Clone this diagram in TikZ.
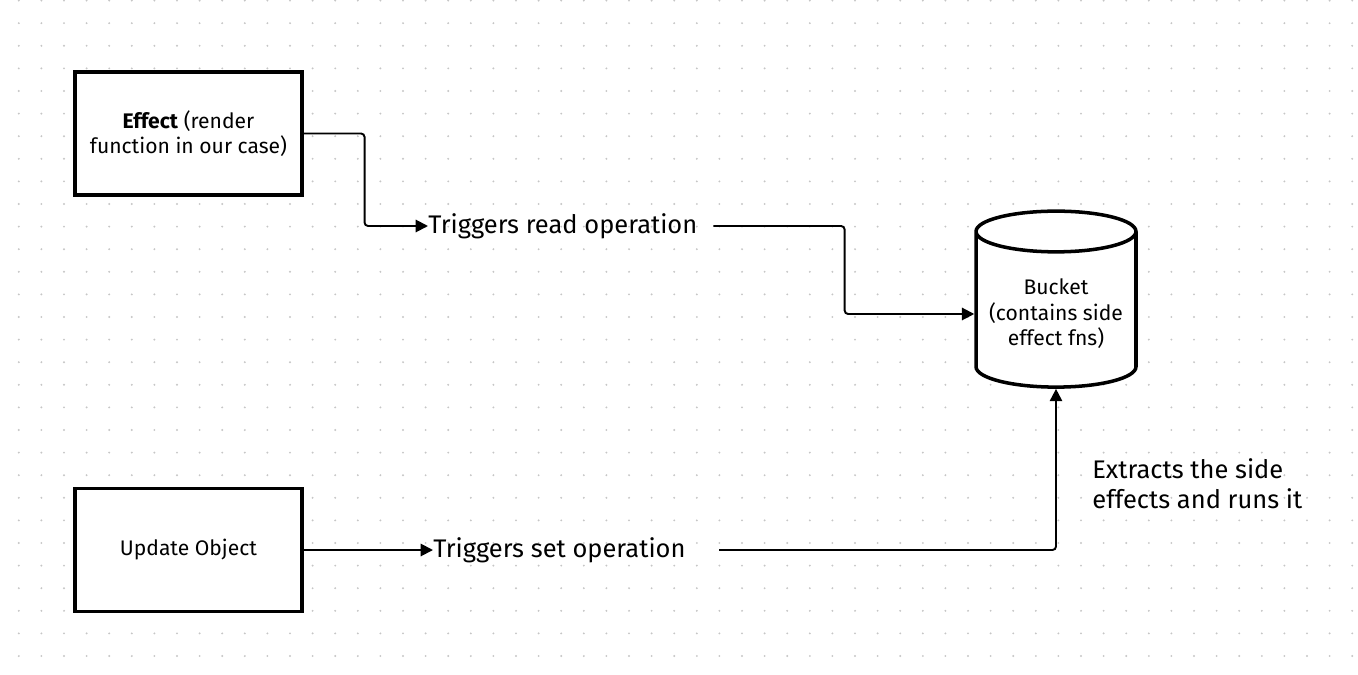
\documentclass[tikz,border=0pt]{standalone}
\usepackage{fontspec}
\setmainfont{Fira Sans}
\usetikzlibrary{shapes.geometric,arrows.meta}

\begin{document}
\begin{tikzpicture}[x=0.02cm,y=-0.02cm]
        \def\gridstep{22.6}
        \tikzset{block/.style={
           draw, line width=1.8pt, fill=white,
           minimum width=4.54cm, minimum height=2.46cm,
           align=center, font=\fontsize{12}{14.5}\selectfont
        }}
        \tikzset{label/.style={
           anchor=west, inner sep=0pt,
           font=\fontsize{14.5}{17.5}\selectfont
        }}
        \tikzset{link/.style={
           line width=1.1pt, rounded corners=2pt
        }}

        % Canvas
        \useasboundingbox (0,0) rectangle (1358,675);
        \fill[white] (0,0) rectangle (1358,675);
        \foreach \i in {0,...,60} {
            \foreach \j in {0,...,30} {
                \fill[gray!45] (968 + \i*\gridstep - 43*\gridstep, 204 + \j*\gridstep - 9*\gridstep) circle (0.6pt);
            }
        }

        % Blocks
        \node[block] (effect) at (188.5,133.5) {\textbf{Effect} (render\\ function in our case)};
        \node[block] (update) at (188.5,550) {Update Object};
        \node[draw, line width=2pt, fill=white, cylinder, shape border rotate=90,
              aspect=0.28, minimum width=3.2cm, minimum height=3.52cm,
              align=center, font=\fontsize{12}{14.5}\selectfont]
              (bucket) at (1056,314) {Bucket\\ (contains side\\ effect fns)};

        % Labels
        \node[label] (read) at (428,226) {Triggers read operation};
        \node[label] (set) at (433,550) {Triggers set operation};
        \node[label, align=left, anchor=north west] (runs) at (1092,458) {Extracts the side\\ effects and runs it};

        % Lines
        \draw[link, -{Triangle[length=7pt,width=7pt]}] (effect.east) -- ++(61,0) |- (read.west);
        \draw[link, -{Triangle[length=7pt,width=7pt]}, shorten <=9pt] (read.east) -- ++(147,0) |- (bucket.west);
        \draw[link, -{Triangle[length=7pt,width=7pt]}] (update.east) -- (set.west);
        \draw[link, -{Triangle[length=7pt,width=7pt]}, shorten <=19pt] (set.east) -| (bucket.south);
\end{tikzpicture}
\end{document}
